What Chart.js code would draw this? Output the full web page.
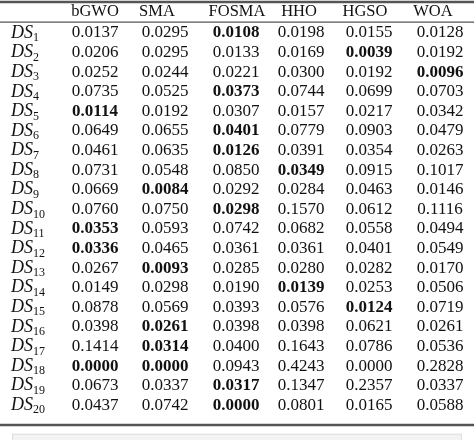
<!DOCTYPE html>
<html><head><meta charset="utf-8">
<script src="https://cdn.jsdelivr.net/npm/chart.js@4"></script>
<style>html,body{margin:0;padding:0;background:#fff}#wrap{width:474px;height:440px}</style>
</head><body><div id="wrap"><canvas id="c"></canvas></div>
<script>
const methods = ['bGWO', 'SMA', 'FOSMA', 'HHO', 'HGSO', 'WOA'];
const rows = ['1','2','3','4','5','6','7','8','9','10','11','12','13','14','15','16','17','18','19','20'];
const bGWO  = ['0.0137','0.0206','0.0252','0.0735','0.0114','0.0649','0.0461','0.0731','0.0669','0.0760','0.0353','0.0336','0.0267','0.0149','0.0878','0.0398','0.1414','0.0000','0.0673','0.0437'];
const SMA   = ['0.0295','0.0295','0.0244','0.0525','0.0192','0.0655','0.0635','0.0548','0.0084','0.0750','0.0593','0.0465','0.0093','0.0298','0.0569','0.0261','0.0314','0.0000','0.0337','0.0742'];
const FOSMA = ['0.0108','0.0133','0.0221','0.0373','0.0307','0.0401','0.0126','0.0850','0.0292','0.0298','0.0742','0.0361','0.0285','0.0190','0.0393','0.0398','0.0400','0.0943','0.0317','0.0000'];
const HHO   = ['0.0198','0.0169','0.0300','0.0744','0.0157','0.0779','0.0391','0.0349','0.0284','0.1570','0.0682','0.0361','0.0280','0.0139','0.0576','0.0398','0.1643','0.4243','0.1347','0.0801'];
const HGSO  = ['0.0155','0.0039','0.0192','0.0699','0.0217','0.0903','0.0354','0.0915','0.0463','0.0612','0.0558','0.0401','0.0282','0.0253','0.0124','0.0621','0.0786','0.0000','0.2357','0.0165'];
const WOA   = ['0.0128','0.0192','0.0096','0.0703','0.0342','0.0479','0.0263','0.1017','0.0146','0.1116','0.0494','0.0549','0.0170','0.0506','0.0719','0.0261','0.0536','0.2828','0.0337','0.0588'];
// best (bold) cells per row
const best = [['FOSMA'],['HGSO'],['WOA'],['FOSMA'],['bGWO'],['FOSMA'],['FOSMA'],['HHO'],['SMA'],['FOSMA'],['bGWO'],['bGWO'],['SMA'],['HHO'],['HGSO'],['SMA'],['SMA'],['bGWO','SMA'],['FOSMA'],['FOSMA']];
const series = [bGWO, SMA, FOSMA, HHO, HGSO, WOA];

// column centre positions on the x scale (pixels in a 474 wide area)
const colX = [95, 165, 236, 301, 369, 440];
const headX = [95, 157, 237, 299, 365, 433];

const points = [];
series.forEach((vals, c) => vals.forEach((v, r) => points.push({x: colX[c], y: r + 1, txt: v, bold: best[r].includes(methods[c])})));

const tablePlugin = {
  id: 'table',
  afterDatasetsDraw(chart) {
    const g = chart.ctx, xs = chart.scales.x, ys = chart.scales.y;
    g.save();
    g.fillStyle = '#111';
    g.textBaseline = 'middle';
    // rules
    g.strokeStyle = '#555';
    [[-0.58, 2.5], [0.44, 1.3], [21.0, 2.5]].forEach(([v, w]) => {
      g.lineWidth = w;
      g.beginPath(); g.moveTo(xs.getPixelForValue(0), ys.getPixelForValue(v)); g.lineTo(xs.getPixelForValue(474), ys.getPixelForValue(v)); g.stroke();
    });
    // header
    g.textAlign = 'center';
    g.font = '16.5px "Liberation Serif"';
    methods.forEach((m, i) => g.fillText(m, xs.getPixelForValue(headX[i]), ys.getPixelForValue(-0.07)));
    // row labels
    g.textAlign = 'left';
    rows.forEach((s, r) => {
      const y = ys.getPixelForValue(r + 1);
      g.font = 'italic 18px "Liberation Serif"';
      g.fillText('DS', 11, y);
      const w = g.measureText('DS').width;
      g.font = '12px "Liberation Serif"';
      g.fillText(s, 11 + w, y + 5);
    });
    // values
    g.textAlign = 'center';
    chart.data.datasets[0].data.forEach(p => {
      g.font = (p.bold ? 'bold ' : '') + '17px "Liberation Serif"';
      g.fillText(p.txt, xs.getPixelForValue(p.x), ys.getPixelForValue(p.y));
    });
    // faint box at bottom
    const yb = ys.getPixelForValue(21.45);
    g.fillStyle = '#f3f3f3'; g.fillRect(12, yb, 450, 20);
    g.strokeStyle = '#ddd'; g.lineWidth = 1; g.strokeRect(12.5, yb + 0.5, 449, 20);
    g.restore();
  }
};

new Chart(document.getElementById('c'), {
  type: 'scatter',
  data: { datasets: [{ data: points, pointRadius: 0, pointHoverRadius: 0 }] },
  options: {
    responsive: true, maintainAspectRatio: false, animation: false,
    layout: { padding: 0 },
    plugins: { legend: { display: false }, tooltip: { enabled: false } },
    scales: {
      x: { type: 'linear', min: 0, max: 474, display: false },
      y: { type: 'linear', min: -0.684, max: 21.77, reverse: true, display: false }
    }
  },
  plugins: [tablePlugin]
});
</script></body></html>
